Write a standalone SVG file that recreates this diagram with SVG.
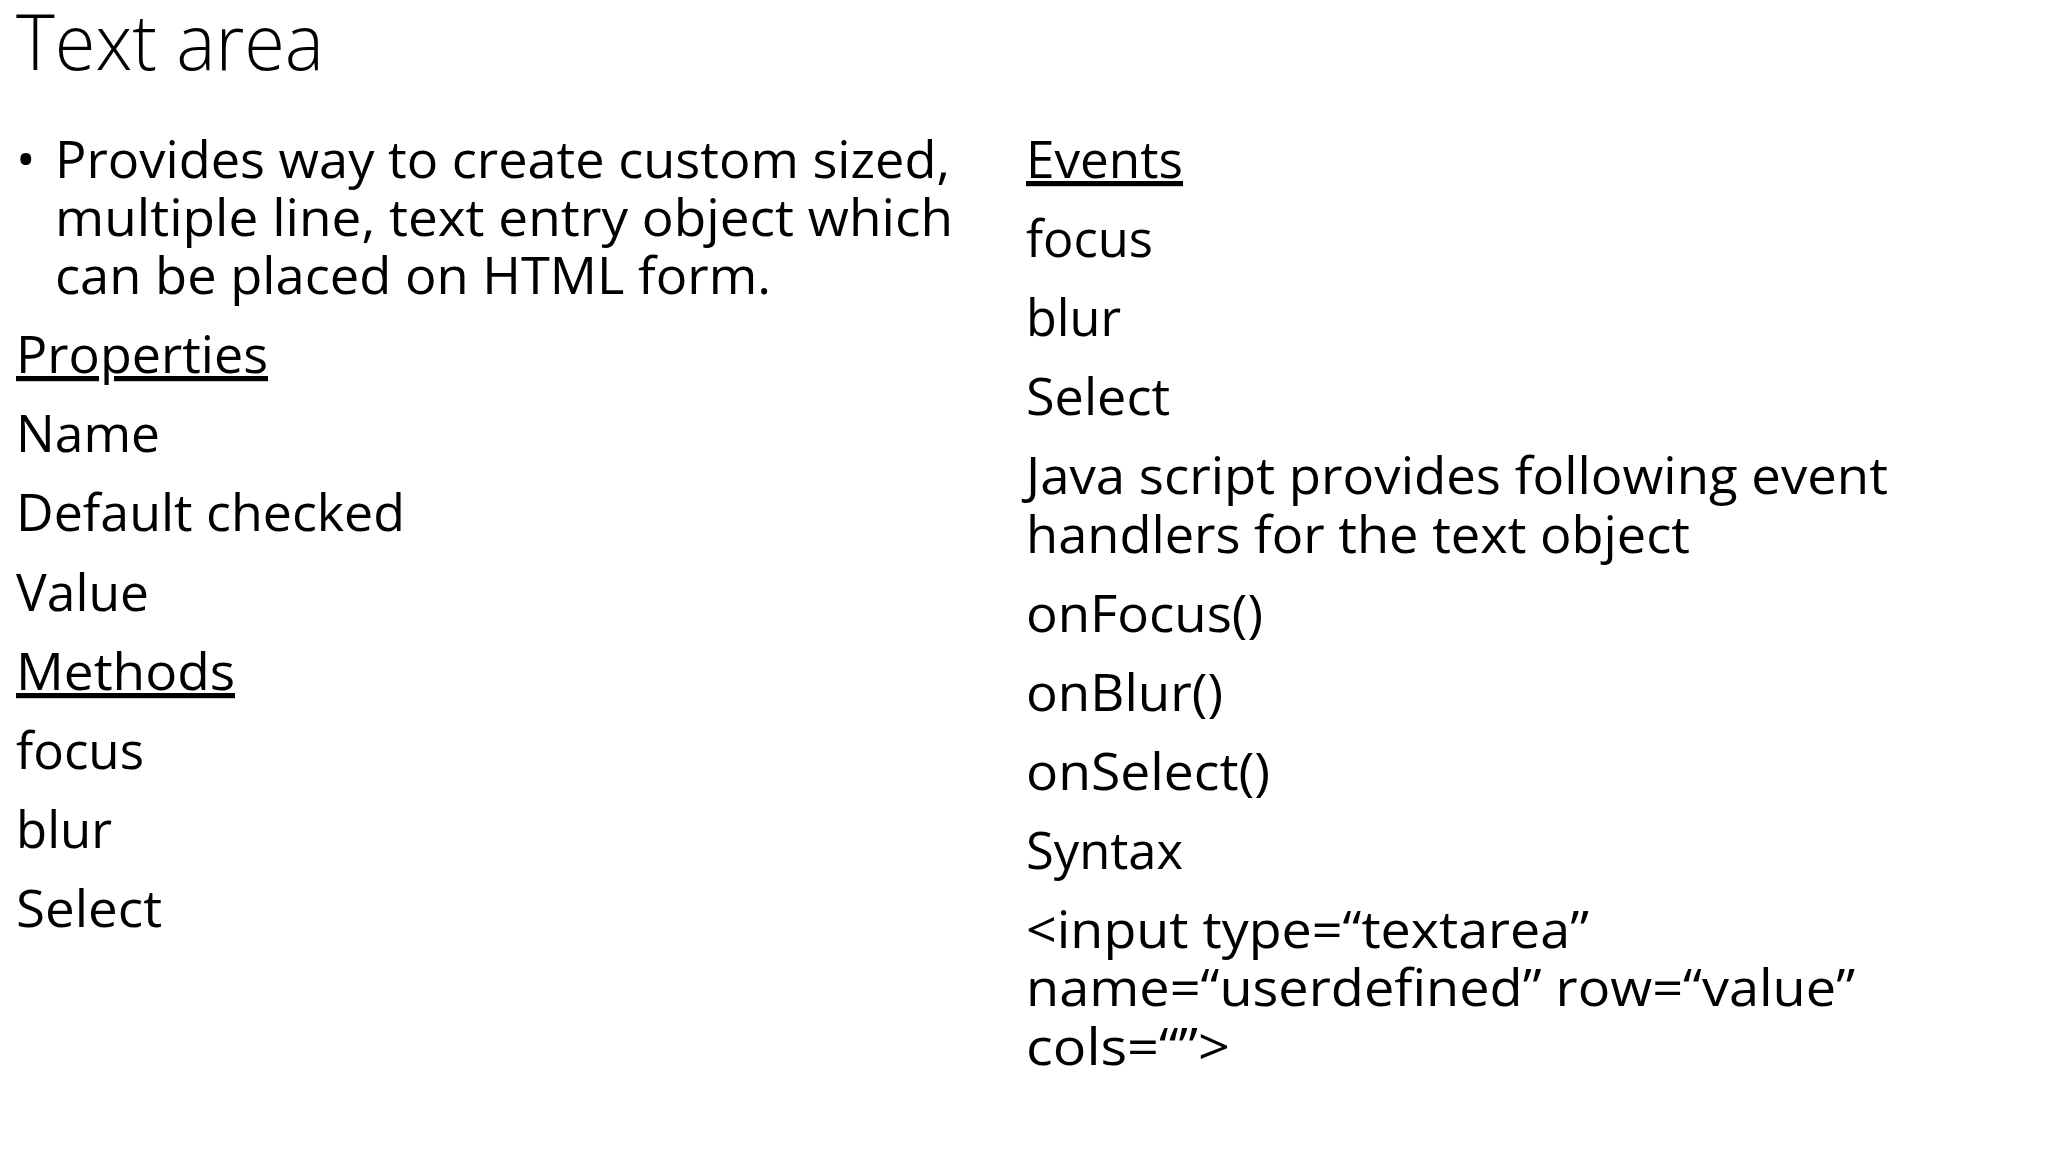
<svg xmlns="http://www.w3.org/2000/svg" width="2048" height="1152" viewBox="0 0 2048 1152">
<style>
text{font-family:"Open Sans","Noto Sans",sans-serif;fill:#000;font-size:52px}
.t{font-size:78px;font-weight:300}
.u{text-decoration:underline}
</style>
<rect width="2048" height="1152" fill="#fff"/>
<g id="title"><text class="t" x="16" y="70" textLength="308" lengthAdjust="spacingAndGlyphs">Text area</text></g>
<g id="left" transform="translate(0,-3)">
<text x="16" y="181">•</text>
<text x="55" y="181" textLength="895" lengthAdjust="spacingAndGlyphs">Provides way to create custom sized,</text>
<text x="55" y="239" textLength="898" lengthAdjust="spacingAndGlyphs">multiple line, text entry object which</text>
<text x="55" y="297" textLength="716" lengthAdjust="spacingAndGlyphs">can be placed on HTML form.</text>
<text class="u" x="16" y="376" textLength="252" lengthAdjust="spacingAndGlyphs">Properties</text>
<text x="16" y="455" textLength="144" lengthAdjust="spacingAndGlyphs">Name</text>
<text x="16" y="534" textLength="389" lengthAdjust="spacingAndGlyphs">Default checked</text>
<text x="16" y="614" textLength="133" lengthAdjust="spacingAndGlyphs">Value</text>
<text class="u" x="16" y="693" textLength="219" lengthAdjust="spacingAndGlyphs">Methods</text>
<text x="16" y="772" textLength="128" lengthAdjust="spacingAndGlyphs">focus</text>
<text x="16" y="851" textLength="96" lengthAdjust="spacingAndGlyphs">blur</text>
<text x="16" y="930" textLength="146" lengthAdjust="spacingAndGlyphs">Select</text>
</g>
<g id="right" transform="translate(-10,-3)">
<text class="u" x="1036" y="181" textLength="157" lengthAdjust="spacingAndGlyphs">Events</text>
<text x="1036" y="260" textLength="127" lengthAdjust="spacingAndGlyphs">focus</text>
<text x="1036" y="339" textLength="95" lengthAdjust="spacingAndGlyphs">blur</text>
<text x="1036" y="418" textLength="144" lengthAdjust="spacingAndGlyphs">Select</text>
<text x="1036" y="497" textLength="862" lengthAdjust="spacingAndGlyphs">Java script provides following event</text>
<text x="1036" y="556" textLength="664" lengthAdjust="spacingAndGlyphs">handlers for the text object</text>
<text x="1036" y="635" textLength="237" lengthAdjust="spacingAndGlyphs">onFocus()</text>
<text x="1036" y="714" textLength="197" lengthAdjust="spacingAndGlyphs">onBlur()</text>
<text x="1036" y="793" textLength="244" lengthAdjust="spacingAndGlyphs">onSelect()</text>
<text x="1036" y="872" textLength="157" lengthAdjust="spacingAndGlyphs">Syntax</text>
<text x="1036" y="951" textLength="563" lengthAdjust="spacingAndGlyphs">&lt;input type=“textarea”</text>
<text x="1036" y="1009" textLength="829" lengthAdjust="spacingAndGlyphs">name=“userdefined” row=“value”</text>
<text x="1036" y="1068" textLength="204" lengthAdjust="spacingAndGlyphs">cols=“”&gt;</text>
</g>
</svg>
